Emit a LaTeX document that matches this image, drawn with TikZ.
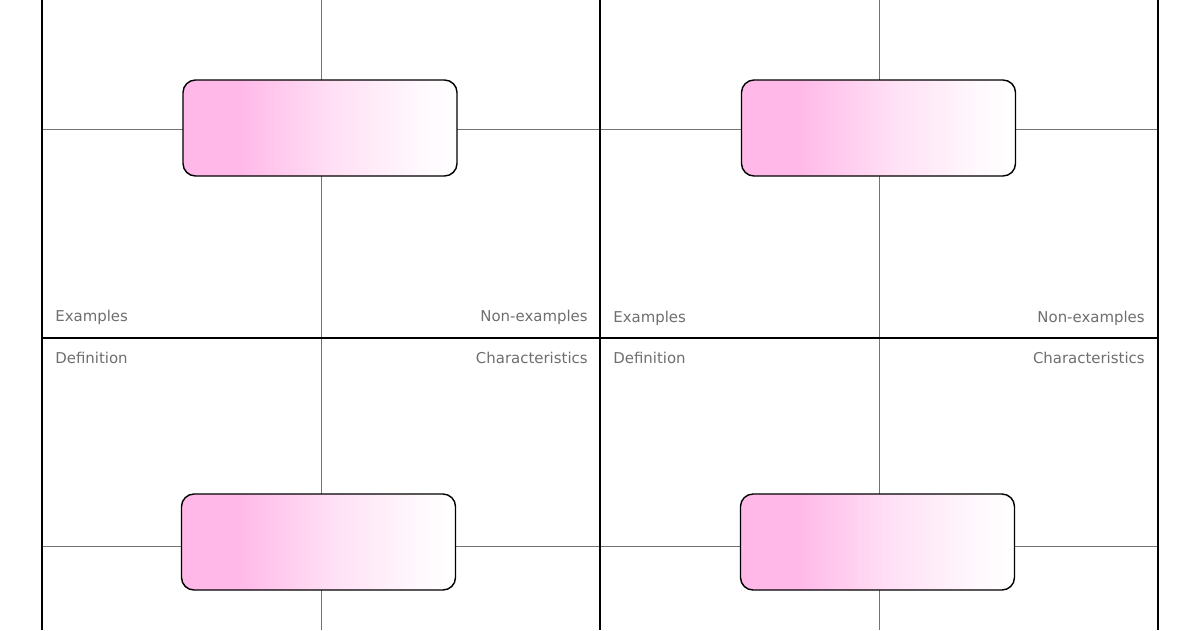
\documentclass[tikz,border=0pt]{standalone}
\usepackage{fontspec}
\setmainfont{DejaVu Sans}
\usetikzlibrary{positioning}

\definecolor{boxpink}{RGB}{255,184,232}
\definecolor{labelgray}{RGB}{110,110,110}
\pgfdeclarehorizontalshading{pinkfade}{100bp}{color(0bp)=(boxpink); color(25bp)=(boxpink); color(35bp)=(boxpink); color(52bp)=(boxpink!45); color(68bp)=(boxpink!10); color(75bp)=(white); color(100bp)=(white)}

\begin{document}
\begin{tikzpicture}[
		x=0.02cm, y=-0.02cm,
		panel/.style={line width=1.25pt, black},
		cross/.style={line width=0.55pt, black!55},
		wordbox/.style={draw, line width=0.8pt, rounded corners=12.5*0.02cm, minimum width=274*0.02cm, minimum height=96*0.02cm, shading=pinkfade, inner sep=0pt},
		label/.style={font=\fontsize{8.5}{10}\selectfont, text=labelgray, inner sep=0pt}
		]
	
		\useasboundingbox (0,0) rectangle (1200,630);
		
		% Denote the cross lines of each panel
		\coordinate (tlN) at (321,0);     \coordinate (tlS) at (321,338);
		\coordinate (tlW) at (42,129);    \coordinate (tlE) at (600,129);
		\coordinate (trN) at (879,0);     \coordinate (trS) at (879,338);
		\coordinate (trW) at (600,129);   \coordinate (trE) at (1158,129);
		\coordinate (blN) at (321,338);   \coordinate (blS) at (321,630);
		\coordinate (blW) at (42,546);    \coordinate (blE) at (600,546);
		\coordinate (brN) at (879,338);   \coordinate (brS) at (879,630);
		\coordinate (brW) at (600,546);   \coordinate (brE) at (1158,546);
		\draw[cross] (tlN) -- (tlS) (tlW) -- (tlE);
		\draw[cross] (trN) -- (trS) (trW) -- (trE);
		\draw[cross] (blN) -- (blS) (blW) -- (blE);
		\draw[cross] (brN) -- (brS) (brW) -- (brE);
		
		% Denote the panel frame
		\coordinate (leftTop) at (42,0);     \coordinate (leftBot) at (42,630);
		\coordinate (midTop) at (600,0);     \coordinate (midBot) at (600,630);
		\coordinate (rightTop) at (1158,0);  \coordinate (rightBot) at (1158,630);
		\coordinate (rowLeft) at (42,338);   \coordinate (rowRight) at (1158,338);
		\draw[panel] (leftTop) -- (leftBot);
		\draw[panel] (midTop) -- (midBot);
		\draw[panel] (rightTop) -- (rightBot);
		\draw[panel] (rowLeft) -- (rowRight);
		
		% Denote the word boxes
		\node[wordbox] at (320,128) (boxTL) {};
		\node[wordbox] at (878.5,128) (boxTR) {};
		\node[wordbox] at (318.5,542) (boxBL) {};
		\node[wordbox] at (877.5,542) (boxBR) {};
		
		% Denote the quadrant labels
		\node[label, anchor=base west] at (55,321) (exTL) {Examples};
		\node[label, anchor=base east] at (588,321) (nonTL) {Non-examples};
		\node[label, anchor=base west] at (613,322) (exTR) {Examples};
		\node[label, anchor=base east] at (1145,322) (nonTR) {Non-examples};
		\node[label, anchor=base west] at (55,363) (defBL) {Definition};
		\node[label, anchor=base east] at (588,363) (charBL) {Characteristics};
		\node[label, anchor=base west] at (613,363) (defBR) {Definition};
		\node[label, anchor=base east] at (1145,363) (charBR) {Characteristics};
		
	\end{tikzpicture}
\end{document}
